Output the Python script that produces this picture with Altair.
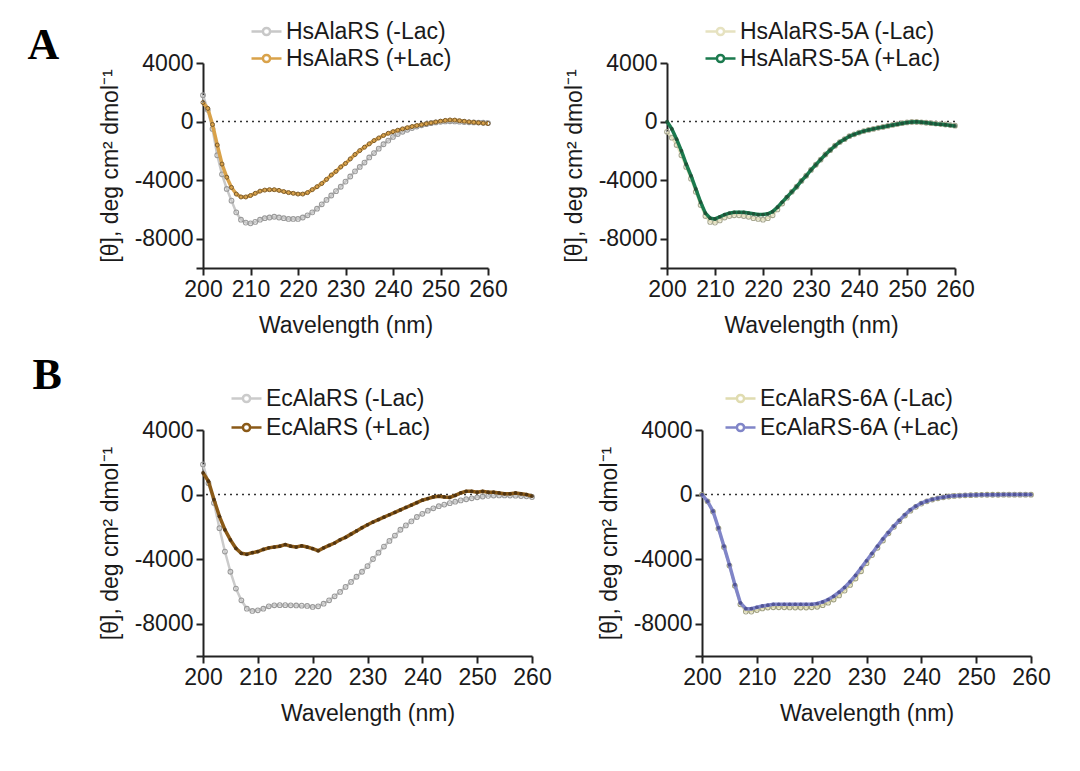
import altair as alt
import pandas as pd

wavelength = list(range(200, 261))

hs_minus = [1800, 800, -500, -2300, -3600, -4600, -5400, -6200, -6700, -6900,
            -6950, -6850, -6700, -6600, -6550, -6500, -6550, -6600, -6650, -6650,
            -6650, -6550, -6400, -6200, -5950, -5650, -5350, -5050, -4750, -4450,
            -4100, -3750, -3400, -3100, -2800, -2450, -2150, -1850, -1550, -1300,
            -1050, -850, -700, -560, -440, -340, -250, -180, -110, -60,
            -20, 10, 20, 10, -10, -30, -50, -60, -70, -80, -100]
hs_plus = [1300, 900, -200, -1600, -2900, -3800, -4500, -4950, -5150, -5150,
           -5050, -4900, -4750, -4680, -4650, -4650, -4700, -4780, -4850, -4900,
           -4950, -4950, -4850, -4650, -4450, -4230, -3950, -3650, -3400, -3100,
           -2860, -2550, -2250, -1980, -1750, -1520, -1300, -1120, -950, -800,
           -690, -590, -500, -420, -340, -270, -210, -150, -90, -30,
           30, 80, 110, 100, 60, 20, -20, -50, -80, -110, -130]

hs5a_minus = [-700, -1100, -1600, -2300, -3100, -3900, -4800, -5700, -6450, -6850,
              -6900, -6750, -6550, -6450, -6400, -6400, -6450, -6500, -6600, -6650,
              -6700, -6600, -6400, -6000, -5600, -5200, -4800, -4450, -4050, -3700,
              -3300, -2950, -2600, -2250, -1950, -1650, -1400, -1200, -1000, -870,
              -750, -650, -570, -500, -430, -370, -300, -230, -170, -110,
              -60, -30, -30, -50, -80, -110, -140, -170, -200, -240, -280]
hs5a_plus = [0, -500, -1200, -2000, -2900, -3700, -4600, -5500, -6250, -6600,
             -6650, -6500, -6350, -6250, -6200, -6200, -6200, -6250, -6300, -6350,
             -6350, -6300, -6150, -5850, -5500, -5150, -4800, -4450, -4050, -3700,
             -3300, -2950, -2600, -2250, -1950, -1650, -1400, -1200, -1000, -870,
             -750, -650, -570, -500, -430, -370, -300, -240, -180, -120,
             -70, -30, -20, -40, -80, -120, -160, -190, -220, -260, -300]

ec_minus = [1870, 700, -520, -2080, -3530, -4780, -5820, -6550, -7070, -7210,
            -7170, -7070, -6920, -6860, -6850, -6850, -6860, -6870, -6880, -6900,
            -6960, -6920, -6760, -6550, -6300, -6030, -5720, -5410, -5090, -4780,
            -4430, -3990, -3600, -3220, -2870, -2540, -2180, -1910, -1660, -1390,
            -1190, -1000, -850, -720, -620, -530, -440, -360, -290, -230,
            -170, -120, -80, -60, -50, -50, -60, -70, -90, -110, -150]
ec_plus = [1350, 830, -310, -1350, -2180, -2810, -3330, -3640, -3700, -3600,
           -3530, -3400, -3300, -3250, -3200, -3100, -3200, -3250, -3180, -3250,
           -3350, -3480, -3300, -3150, -3000, -2800, -2650, -2450, -2250, -2050,
           -1870, -1700, -1550, -1400, -1250, -1100, -950, -800, -650, -500,
           -350, -250, -150, -100, -150, -180, -50, 100, 200, 200,
           150, 200, 150, 150, 100, 50, 50, 100, 50, 0, -100]

ec6a_minus = [0, -420, -1050, -2100, -3250, -4400, -5650, -6800, -7250, -7250,
              -7150, -7050, -7000, -6980, -6980, -6980, -6990, -7000, -7000, -7000,
              -6980, -6950, -6850, -6700, -6500, -6250, -5950, -5600, -5200, -4750,
              -4250, -3750, -3300, -2850, -2400, -2000, -1650, -1300, -1000, -760,
              -560, -420, -310, -230, -170, -120, -85, -60, -45, -35,
              -25, -15, -10, -10, -10, -5, -5, -5, -5, -5, -5]
ec6a_plus = [0, -410, -1030, -2070, -3200, -4340, -5580, -6710, -7070, -7070,
             -6980, -6900, -6850, -6800, -6800, -6800, -6800, -6800, -6800, -6800,
             -6800, -6750, -6650, -6500, -6300, -6050, -5750, -5400, -5000, -4550,
             -4100, -3650, -3200, -2750, -2350, -1950, -1600, -1250, -950, -720,
             -530, -400, -300, -220, -160, -110, -80, -60, -40, -30,
             -20, -10, -10, -5, -5, 0, 0, 0, 0, 0, 0]

FONT = "Liberation Sans"
Y_TITLE = "[θ], deg cm² dmol⁻¹"
LEGEND_PATH = ("M-1.25,0L-0.3,0M0.3,0L1.25,0M-0.3,0A0.3,0.3,0,1,0,0.3,0"
               "A0.3,0.3,0,1,0,-0.3,0")


def panel(minus, plus, names, line_colors, pt_colors, plus_filled, width, height,
          leg_x, leg_y, row_pad):
    df = pd.DataFrame({
        "Wavelength": wavelength + wavelength,
        "Theta": minus + plus,
        "Sample": [names[0]] * len(wavelength) + [names[1]] * len(wavelength),
    })
    x = alt.X("Wavelength:Q", scale=alt.Scale(domain=[200, 260], nice=False),
              axis=alt.Axis(values=list(range(200, 261, 10)), title="Wavelength (nm)",
                            labelOverlap=False, labelFlush=False))
    y = alt.Y("Theta:Q", scale=alt.Scale(domain=[-10000, 4000], nice=False),
              axis=alt.Axis(values=[4000, 0, -4000, -8000, -10000],
                            labelExpr="datum.value == -10000 ? '' : datum.value",
                            labelOverlap=False, labelFlush=False, title=Y_TITLE))
    color = alt.Color("Sample:N", scale=alt.Scale(domain=names, range=line_colors),
                      legend=alt.Legend(title=None, orient="none", legendX=leg_x,
                                        legendY=leg_y, symbolType=LEGEND_PATH,
                                        symbolSize=576, symbolStrokeWidth=2.5,
                                        labelFontSize=23, labelFont=FONT,
                                        labelColor="#1a1a1a", rowPadding=row_pad,
                                        labelOffset=6, labelLimit=400))
    zero = alt.Chart(pd.DataFrame({"z": [0]})).mark_rule(
        strokeDash=[2, 4], color="#333333", strokeWidth=1.6).encode(y="z:Q")
    base_m = alt.Chart(df).transform_filter(alt.datum.Sample == names[0])
    base_p = alt.Chart(df).transform_filter(alt.datum.Sample == names[1])
    line_m = base_m.mark_line(strokeWidth=2.5).encode(x=x, y=y, color=color)
    pts_m = base_m.mark_point(filled=False, size=22, strokeWidth=1.1,
                              color=pt_colors[0], opacity=1).encode(x=x, y=y)
    line_p = base_p.mark_line(strokeWidth=3.5).encode(x=x, y=y, color=color)
    if plus_filled:
        pts_p = base_p.mark_circle(size=14, color=pt_colors[1], opacity=0.9).encode(x=x, y=y)
    else:
        pts_p = base_p.mark_point(filled=False, size=16, strokeWidth=1,
                                  color=pt_colors[1], opacity=1).encode(x=x, y=y)
    return alt.layer(zero, line_m, pts_m, line_p, pts_p).properties(
        width=width, height=height)


pA1 = panel(hs_minus, hs_plus, ["HsAlaRS (-Lac)", "HsAlaRS (+Lac)"],
            ["#c8c8c8", "#d9a24a"], ["#9a9a9a", "#7a5a2a"], False, 285, 205, 50, -45, 1)
pA2 = panel(hs5a_minus, hs5a_plus, ["HsAlaRS-5A (-Lac)", "HsAlaRS-5A (+Lac)"],
            ["#e6e2c0", "#1b7a4e"], ["#a8a890", "#1f4f36"], True, 288, 205, 40, -45, 1)
pB1 = panel(ec_minus, ec_plus, ["EcAlaRS (-Lac)", "EcAlaRS (+Lac)"],
            ["#cbcbcb", "#8a5a18"], ["#9a9a9a", "#4a3010"], True, 329, 226, 30, -45, 3)
pB2 = panel(ec6a_minus, ec6a_plus, ["EcAlaRS-6A (-Lac)", "EcAlaRS-6A (+Lac)"],
            ["#e0dcb0", "#8085c8"], ["#a0a080", "#4c5090"], True, 329, 226, 25, -45, 3)


def label_title(text, offset, dx, dy):
    return alt.TitleParams(text, orient="left", anchor="end", angle=0,
                           font="Liberation Serif", fontSize=44, fontWeight="bold",
                           color="black", baseline="top", offset=offset, dx=dx, dy=dy)


rowA = alt.hconcat(pA1, pA2, spacing=55, title=label_title("A", 15, 7, 6)).resolve_scale(
    color="independent")
rowB = alt.hconcat(pB1, pB2, spacing=46, title=label_title("B", 9, 1, -31)).resolve_scale(
    color="independent")

chart = alt.vconcat(rowA, rowB, spacing=17).resolve_scale(
    color="independent").configure_view(stroke=None).configure_axis(
    labelFont=FONT, titleFont=FONT, labelFontSize=23, titleFontSize=23,
    labelColor="#1a1a1a", titleColor="#1a1a1a", titleFontWeight="normal",
    domainColor="#222222", domainWidth=2, tickColor="#222222", tickWidth=2,
    tickSize=7, grid=False, labelPadding=3,
).configure_axisX(titlePadding=13).configure_axisY(titlePadding=12).properties(
    background="white", padding={"left": 27, "top": 18, "right": 10, "bottom": 10})

chart.save("out.html", embed_options={"renderer": "svg", "actions": False})
